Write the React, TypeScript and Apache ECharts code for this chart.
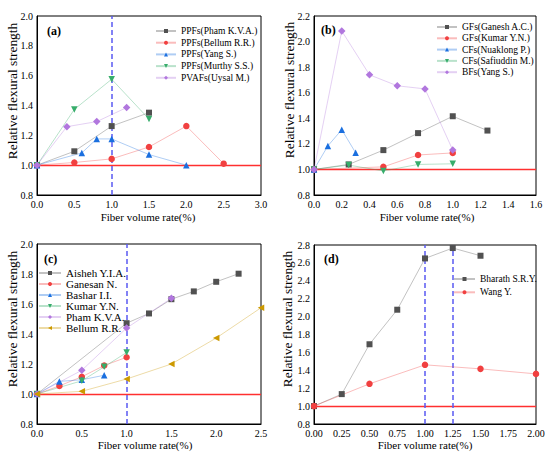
import React, { useEffect, useRef } from "react";
import * as echarts from "echarts";

const FONT = "Liberation Serif";

// Origin-like palette
const COLORS = ["#515151", "#F14040", "#1A6FDF", "#37AD6B", "#B177DE", "#CC9900"];

// ---------- Panel (a) ----------
const aNames = ["PPFs(Pham K.V.A.)", "PPFs(Bellum R.R.)", "PPFs(Yang S.)", "PPFs(Murthy S.S.)", "PVAFs(Uysal M.)"];
const aPham = [[0, 1.0], [0.5, 1.093], [1.0, 1.262], [1.5, 1.352]];
const aBellum = [[0, 1.0], [0.5, 1.018], [1.0, 1.042], [1.5, 1.122], [2.0, 1.262], [2.5, 1.01]];
const aYang = [[0, 1.0], [0.6, 1.082], [0.8, 1.176], [1.0, 1.176], [1.5, 1.071], [2.0, 1.0]];
const aMurthy = [[0, 1.0], [0.5, 1.374], [1.0, 1.576], [1.5, 1.309]];
const aUysal = [[0, 1.0], [0.4, 1.258], [0.8, 1.292], [1.2, 1.386]];

// ---------- Panel (b) ----------
const bNames = ["GFs(Ganesh A.C.)", "GFs(Kumar Y.N.)", "CFs(Nuaklong P.)", "CFs(Safiuddin M.)", "BFs(Yang S.)"];
const bGanesh = [[0, 1.0], [0.25, 1.039], [0.5, 1.151], [0.75, 1.284], [1.0, 1.416], [1.25, 1.304]];
const bKumar = [[0, 1.0], [0.5, 1.02], [0.75, 1.113], [1.0, 1.129]];
const bNuaklong = [[0, 1.0], [0.1, 1.184], [0.2, 1.311], [0.3, 1.13]];
const bSafiuddin = [[0, 1.0], [0.25, 1.034], [0.5, 0.988], [0.75, 1.039], [1.0, 1.044]];
const bYang = [[0, 1.0], [0.2, 2.083], [0.4, 1.74], [0.6, 1.654], [0.8, 1.63], [1.0, 1.151]];

// ---------- Panel (c) ----------
const cNames = ["Aisheh Y.I.A.", "Ganesan N.", "Bashar I.I.", "Kumar Y.N.", "Pham K.V.A.", "Bellum R.R."];
const cAisheh = [[0, 1.0], [1.0, 1.472], [1.25, 1.537], [1.5, 1.632], [1.75, 1.684], [2.0, 1.748], [2.25, 1.802]];
const cGanesan = [[0, 1.0], [0.25, 1.054], [0.5, 1.115], [0.75, 1.19], [1.0, 1.245]];
const cBashar = [[0, 1.0], [0.25, 1.084], [0.5, 1.095], [0.75, 1.125]];
const cKumar = [[0, 1.0], [0.5, 1.088], [0.75, 1.181], [1.0, 1.277]];
const cPham = [[0, 1.0], [0.5, 1.158], [1.0, 1.44], [1.5, 1.638]];
const cBellum = [[0, 1.0], [0.5, 1.018], [1.0, 1.1], [1.5, 1.2], [2.0, 1.373], [2.5, 1.575]];

// ---------- Panel (d) ----------
const dNames = ["Bharath S.R.Y.", "Wang Y."];
const dBharath = [[0, 1.0], [0.25, 1.134], [0.5, 1.691], [0.75, 2.077], [1.0, 2.65], [1.25, 2.766], [1.5, 2.68]];
const dWang = [[0, 1.0], [0.5, 1.249], [1.0, 1.461], [1.5, 1.416], [2.0, 1.36]];

// Axes ranges
const xRanges = [
  { min: 0, max: 3, interval: 0.5, dec: 1 },
  { min: 0, max: 1.6, interval: 0.2, dec: 1 },
  { min: 0, max: 2.5, interval: 0.5, dec: 1 },
  { min: 0, max: 2, interval: 0.25, dec: 2 },
];
const yRanges = [
  { min: 0.8, max: 2.0, interval: 0.2 },
  { min: 0.8, max: 2.2, interval: 0.2 },
  { min: 0.8, max: 2.0, interval: 0.2 },
  { min: 0.8, max: 2.8, interval: 0.2 },
];
const xTitle = "Fiber volume rate(%)";
const yTitle = "Relative flexural strength";
const refY = 1.0;
const dashedX = [[1.0], [], [1.0], [1.0, 1.25]];
const panelLabels = ["(a)", "(b)", "(c)", "(d)"];

const SYM = {
  square: "rect",
  circle: "circle",
  up: "triangle",
  down: "path://M0,0 L10,0 L5,9 Z",
  diamond: "diamond",
  left: "path://M0,5 L9,0 L9,10 Z",
};
const symOrder = [SYM.square, SYM.circle, SYM.up, SYM.down, SYM.diamond, SYM.left];
const symSize = [6, 6.5, 6.5, 6.5, 7.5, 6.5];

export default function App() {
  const ref = useRef<HTMLDivElement>(null);
  useEffect(() => {
    if (!ref.current) return;
    const chart = echarts.init(ref.current, undefined, { renderer: "svg" });

    const gridBoxes = [
      { left: 37, top: 16, width: 224, height: 179 },
      { left: 314, top: 16, width: 222, height: 179 },
      { left: 37, top: 244, width: 224, height: 180 },
      { left: 314, top: 245, width: 222, height: 179 },
    ];
    const grids = gridBoxes.map((g) => ({
      ...g,
      show: true,
      borderColor: "#000",
      borderWidth: 1,
      backgroundColor: "transparent",
    }));

    const xAxis = xRanges.map((r, i) => ({
      type: "value",
      gridIndex: i,
      min: r.min,
      max: r.max,
      interval: r.interval,
      axisLine: { show: true, onZero: false, lineStyle: { color: "#000", width: 1 } },
      axisTick: { show: false },
      splitLine: { show: false },
      axisLabel: {
        fontFamily: FONT,
        fontSize: 10,
        color: "#000",
        margin: 4,
        formatter: (v: number) => v.toFixed(r.dec),
      },
    }));

    const yAxis = yRanges.map((r, i) => ({
      type: "value",
      gridIndex: i,
      min: r.min,
      max: r.max,
      interval: r.interval,
      axisLine: { show: true, onZero: false, lineStyle: { color: "#000", width: 1 } },
      axisTick: { show: false },
      splitLine: { show: false },
      axisLabel: {
        fontFamily: FONT,
        fontSize: 10,
        color: "#000",
        margin: 4,
        formatter: (v: number) => v.toFixed(1),
      },
    }));

    const panels = [
      { names: aNames, data: [aPham, aBellum, aYang, aMurthy, aUysal] },
      { names: bNames, data: [bGanesh, bKumar, bNuaklong, bSafiuddin, bYang] },
      { names: cNames, data: [cAisheh, cGanesan, cBashar, cKumar, cPham, cBellum] },
      { names: dNames, data: [dBharath, dWang] },
    ];

    const series: any[] = [];
    panels.forEach((p, gi) => {
      p.data.forEach((d, si) => {
        const s: any = {
          type: "line",
          name: p.names[si],
          xAxisIndex: gi,
          yAxisIndex: gi,
          data: d,
          symbol: symOrder[si],
          symbolSize: symSize[si],
          showSymbol: true,
          color: COLORS[si],
          itemStyle: { color: COLORS[si] },
          lineStyle: { color: COLORS[si], width: 1, opacity: 0.35 },
          z: 3,
        };
        if (si === 0) {
          const ml: any[] = [];
          ml.push({
            yAxis: refY,
            lineStyle: { color: "#FF3030", width: 1.3, type: "solid", opacity: 1 },
          });
          dashedX[gi].forEach((x) =>
            ml.push({
              xAxis: x,
              lineStyle: { color: "#5a5af2", width: 1.5, type: [5, 3], opacity: 1 },
            })
          );
          s.markLine = {
            silent: true,
            symbol: ["none", "none"],
            label: { show: false },
            data: ml,
            z: 2,
          };
        }
        series.push(s);
      });
    });

    const legendBase = {
      orient: "vertical",
      itemWidth: 20,
      itemHeight: 5,
      padding: 0,
    };
    const legend = [
      { ...legendBase, left: 155, top: 26, itemGap: 1.7, data: aNames,
        textStyle: { fontFamily: FONT, fontSize: 9.5, color: "#000" } },
      { ...legendBase, left: 436, top: 22, itemGap: 1.3, data: bNames,
        textStyle: { fontFamily: FONT, fontSize: 9.5, color: "#000" } },
      { ...legendBase, left: 38, top: 267.5, itemWidth: 22, itemGap: 0, data: cNames,
        textStyle: { fontFamily: FONT, fontSize: 11, color: "#000" } },
      { ...legendBase, left: 453, top: 274, itemWidth: 21, itemGap: 3.3, data: dNames,
        textStyle: { fontFamily: FONT, fontSize: 9.5, color: "#000" } },
    ];

    const labelPos = [
      [47, 32],
      [321, 31],
      [44, 260],
      [324, 260],
    ];
    const graphic: any[] = panelLabels.map((t, i) => ({
      type: "text",
      left: labelPos[i][0],
      top: labelPos[i][1] - 7,
      style: { text: t, fontFamily: FONT, fontSize: 12, fontWeight: "bold", fill: "#000" },
      z: 10,
    }));

    // axis titles
    const xTitlePos = [
      [148, 217],
      [427, 217],
      [145, 445],
      [425, 445],
    ];
    const yTitlePos = [
      [13, 91],
      [290, 90],
      [13, 319],
      [288, 319],
    ];
    xTitlePos.forEach((p) =>
      graphic.push({
        type: "text",
        x: p[0],
        y: p[1],
        style: {
          text: xTitle,
          fontFamily: FONT,
          fontSize: 11,
          fontWeight: "normal",
          fill: "#000",
          align: "center",
          verticalAlign: "middle",
        },
        z: 10,
      })
    );
    yTitlePos.forEach((p) =>
      graphic.push({
        type: "text",
        x: p[0],
        y: p[1],
        rotation: Math.PI / 2,
        scaleX: 1.12,
        style: {
          text: yTitle,
          fontFamily: FONT,
          fontSize: 12,
          fontWeight: "normal",
          fill: "#000",
          align: "center",
          verticalAlign: "middle",
        },
        z: 10,
      })
    );

    chart.setOption({
      animation: false,
      backgroundColor: "#fff",
      textStyle: { fontFamily: FONT },
      grid: grids,
      xAxis,
      yAxis,
      legend,
      series,
      graphic,
    });
    return () => chart.dispose();
  }, []);
  return (
    <div
      ref={ref}
      style={{ position: "absolute", left: 0, top: 0, width: 550, height: 457 }}
    />
  );
}
